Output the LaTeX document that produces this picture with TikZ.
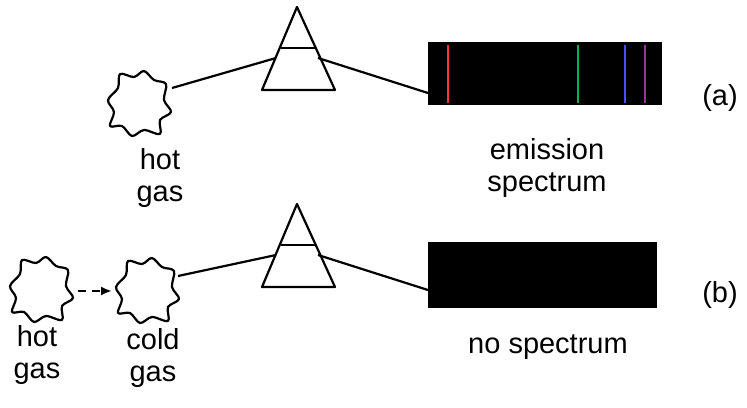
\documentclass[tikz,border=0pt]{standalone}
\usepackage{fontspec}
\setmainfont{Liberation Sans}
\usetikzlibrary{arrows.meta}
\begin{document}
\begin{tikzpicture}[x=1pt,y=-1pt,
  lbl/.style={font=\fontsize{29}{32}\selectfont,align=center,inner sep=0pt},
  ln/.style={line width=2.2pt,line join=round},
  spec/.style={fill=black,draw=none}]
\useasboundingbox (0,0) rectangle (747,407);
\newcommand{\mycloud}[3]{%
 \draw[ln,fill=white] plot[smooth cycle,tension=0.55] coordinates{
 (#1-30,#2-4) (#1-20,#2-16) (#1-18,#2-30) (#1-4,#2-27) (#1+6,#2-33) (#1+16,#2-24)
 (#1+28,#2-20) (#1+26,#2-4) (#1+33,#2+8) (#1+22,#2+16) (#1+22,#2+30) (#1+6,#2+26)
 (#1-6,#2+32) (#1-16,#2+22) (#1-28,#2+22) (#1-24,#2+8)};
 \coordinate (#3) at (#1,#2);}
\mycloud{138}{104}{ca}
\mycloud{40}{290}{ch}
\mycloud{146}{291}{cc}
\foreach \n/\yy in {pa/0,pb/197}{
 \coordinate (\n top) at (297,7+\yy);
 \coordinate (\n bl) at (262,90+\yy);
 \coordinate (\n br) at (335,90+\yy);
 \draw[ln] (\n top)--(\n bl)--(\n br)--cycle;
 \draw[ln] (281,48+\yy)--(315,48+\yy);
 \coordinate (\n L) at (276,58+\yy);
 \coordinate (\n R) at (318,58+\yy);
}
\node[spec,minimum width=234,minimum height=63,anchor=north west] (sa) at (428,42) {};
\foreach \x/\c in {448/red!80!white,578/teal!60!green,625/blue!70!white,645/violet!80!white}
 \draw[\c,line width=2pt] (\x,45)--(\x,103);
\node[spec,minimum width=229,minimum height=66,anchor=north west] (sb) at (428,242) {};
\draw[ln] (172,88)--(paL);
\draw[ln] (paR)--(sa.west|-0,93);
\draw[ln] (178,276)--(pbL);
\draw[ln] (pbR)--(sb.west|-0,290);
\draw[line width=2.2pt,dash pattern=on 8pt off 6pt,-{Latex[length=11pt,width=9pt]}] (78,291)--(112,291);
\node[lbl] (t1) at (160,178) {hot\\gas};
\node[lbl] (t2) at (547,168) {emission\\spectrum};
\node[lbl] (t3) at (720,98) {(a)};
\node[lbl] (t4) at (37,355) {hot\\gas};
\node[lbl] (t5) at (153,358) {cold\\gas};
\node[lbl] (t6) at (548,347) {no spectrum};
\node[lbl] (t7) at (720,295) {(b)};
\end{tikzpicture}
\end{document}
